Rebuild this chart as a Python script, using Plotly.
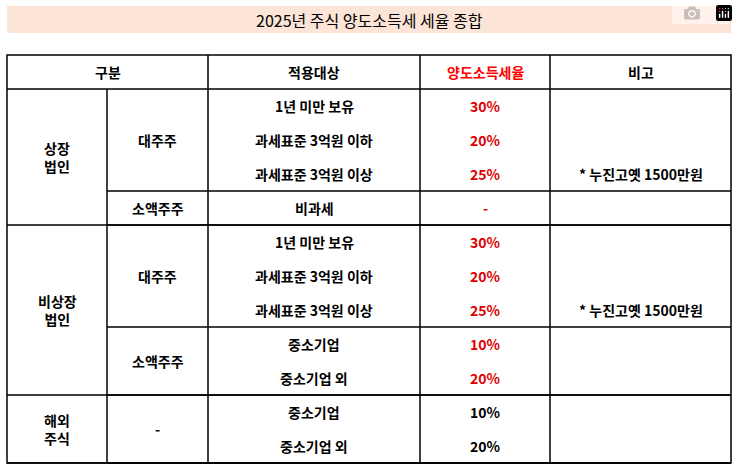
import plotly.graph_objects as go

W, H = 738, 466
FONT = "Noto Sans CJK KR"

title = "2025년 주식 양도소득세 세율 종합"
headers = ["구분", "적용대상", "양도소득세율", "비고"]

# sub-row contents (적용대상, 세율, 세율 colour)
targets = ["1년 미만 보유", "과세표준 3억원 이하", "과세표준 3억원 이상", "비과세",
           "1년 미만 보유", "과세표준 3억원 이하", "과세표준 3억원 이상", "중소기업", "중소기업 외",
           "중소기업", "중소기업 외"]
rates = ["30%", "20%", "25%", "-", "30%", "20%", "25%", "10%", "20%", "10%", "20%"]
rate_red = [True] * 9 + [False] * 2

# groups: (label, first row, n rows)
groups = [("상장<br>법인", 0, 4), ("비상장<br>법인", 4, 5), ("해외<br>주식", 9, 2)]
subgroups = [("대주주", 0, 3), ("소액주주", 3, 1), ("대주주", 4, 3), ("소액주주", 7, 2), ("-", 9, 2)]
notes = [("* 누진고옛 1500만원", 2), ("* 누진고옛 1500만원", 6)]

cols = [7, 107, 208, 420, 550, 731]
top, head_h, row_h = 55, 34, 34
y0 = top + head_h
FS = 14


def ry(i):
    return y0 + i * row_h


fig = go.Figure()
shapes, ann = [], []
line = dict(color="black", width=1.5)

shapes.append(dict(type="rect", x0=7, x1=731, y0=6, y1=33, fillcolor="#FCE4D6", line_width=0, layer="below"))
ann.append(dict(x=369, y=19.5, text=title, font=dict(size=16, color="black")))

bottom = ry(len(targets))
shapes.append(dict(type="rect", x0=cols[0], x1=cols[-1], y0=top, y1=bottom, line=line))
shapes.append(dict(type="line", x0=cols[0], x1=cols[-1], y0=y0, y1=y0, line=line))
shapes.append(dict(type="line", x0=cols[1], x1=cols[1], y0=y0, y1=bottom, line=line))
for c in cols[2:5]:
    shapes.append(dict(type="line", x0=c, x1=c, y0=top, y1=bottom, line=line))

hcx = [(cols[0] + cols[2]) / 2, (cols[2] + cols[3]) / 2, (cols[3] + cols[4]) / 2, (cols[4] + cols[5]) / 2]
for h, x in zip(headers, hcx):
    ann.append(dict(x=x, y=top + head_h / 2, text="<b>%s</b>" % h,
                    font=dict(size=FS, color="red" if h == "양도소득세율" else "black")))

for label, s, n in groups:
    shapes.append(dict(type="line", x0=cols[0], x1=cols[-1], y0=ry(s + n), y1=ry(s + n), line=line))
    ann.append(dict(x=(cols[0] + cols[1]) / 2, y=ry(s) + n * row_h / 2, text="<b>%s</b>" % label,
                    font=dict(size=FS)))
for label, s, n in subgroups:
    shapes.append(dict(type="line", x0=cols[1], x1=cols[-1], y0=ry(s + n), y1=ry(s + n), line=line))
    ann.append(dict(x=(cols[1] + cols[2]) / 2, y=ry(s) + n * row_h / 2, text="<b>%s</b>" % label,
                    font=dict(size=FS)))

for i, (t, r, red) in enumerate(zip(targets, rates, rate_red)):
    ann.append(dict(x=hcx[1], y=ry(i) + row_h / 2, text="<b>%s</b>" % t, font=dict(size=FS)))
    ann.append(dict(x=hcx[2], y=ry(i) + row_h / 2, text="<b>%s</b>" % r,
                    font=dict(size=FS, color="#E00000" if red else "black")))
for t, i in notes:
    ann.append(dict(x=hcx[3], y=ry(i) + row_h / 2, text="<b>%s</b>" % t, font=dict(size=FS)))

for a in ann:
    a.update(xref="x", yref="y", showarrow=False)
    a["font"].setdefault("color", "black")

fig.update_layout(
    width=W, height=H, margin=dict(l=0, r=0, t=0, b=0),
    paper_bgcolor="white", plot_bgcolor="white",
    font=dict(family=FONT),
    xaxis=dict(range=[0, W], visible=False, fixedrange=True),
    yaxis=dict(range=[H, 0], visible=False, fixedrange=True),
    shapes=shapes, annotations=ann, showlegend=False,
)
fig.write_html("out.html", post_script="document.body.style.margin='0';")
